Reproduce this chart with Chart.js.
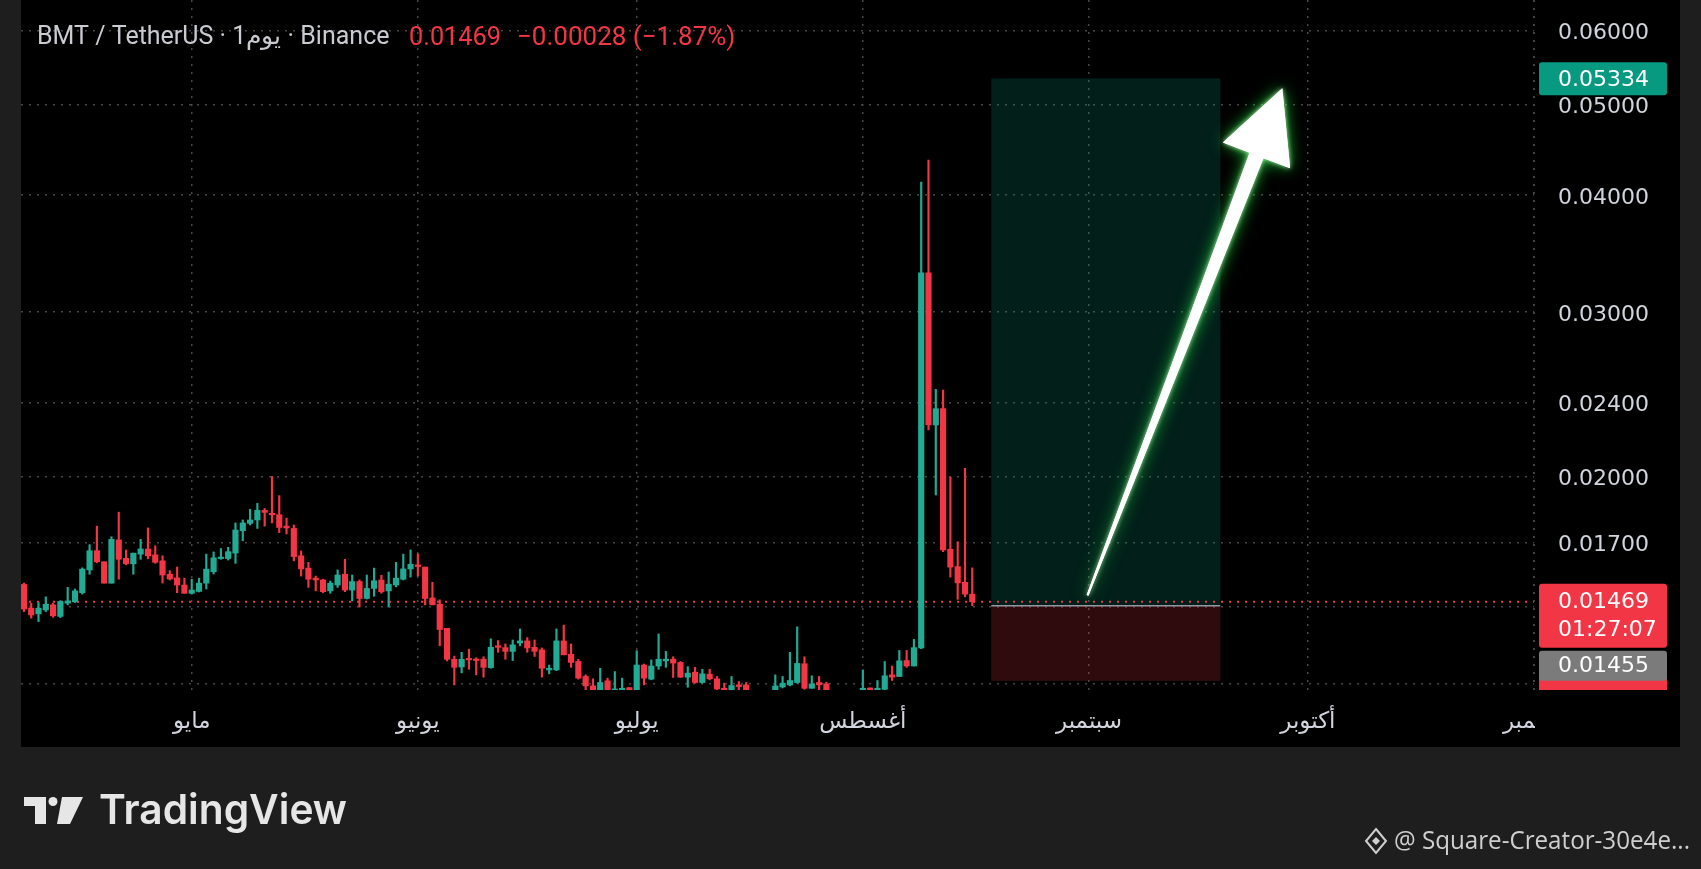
<!DOCTYPE html>
<html>
<head>
<meta charset="utf-8">
<script src="https://cdn.jsdelivr.net/npm/chart.js@4.4.1/dist/chart.umd.min.js"></script>
<style>
  html, body { margin: 0; padding: 0; background: #1e1e1e; }
  #wrap { position: relative; width: 1701px; height: 869px; overflow: hidden; }
  #panel { position: absolute; left: 21px; top: 0; width: 1659px; height: 747px; background: #000; }
  #ourChart { position: absolute; left: 0; top: 0; }
</style>
</head>
<body>
<div id="wrap">
  <div id="panel"></div>
  <canvas id="ourChart" width="1701" height="869"></canvas>
</div>
<script>
// days counted from 1 May (0 = 1 May)
var dayIndex = [
  -23, -22, -21, -20, -19, -18, -17, -16, -15, -14, -13, -12, -11, -10, -9, -8, -7, -6, -5, -4, -3, -2, -1,
  0, 1, 2, 3, 4, 5, 6, 7, 8, 9, 10, 11, 12, 13, 14, 15, 16, 17, 18, 19, 20, 21, 22, 23, 24, 25, 26, 27, 28, 29, 30,
  31, 32, 33, 34, 35, 36, 37, 38, 39, 40, 41, 42, 43, 44, 45, 46, 47, 48, 49, 50, 51, 52, 53, 54, 55, 56, 57, 58, 59, 60,
  61, 62, 63, 64, 65, 66, 67, 68, 69, 70, 71, 72, 73, 74, 75, 76, 77, 78, 79, 80, 81, 82, 83, 84, 85, 86, 87, 88, 89, 90, 91,
  92, 93, 94, 95, 96, 97, 98, 99, 100, 101, 102, 103, 104, 105, 106, 107
];

var openPrices = [
  0.01533, 0.01446, 0.01426, 0.01440, 0.01458, 0.01417, 0.01464, 0.01469, 0.01502, 0.01589,
  0.01666, 0.01621, 0.01538, 0.01711, 0.01635, 0.01613, 0.01652, 0.01673, 0.01649, 0.01625,
  0.01572, 0.01558, 0.01531, 0.01500, 0.01507, 0.01538, 0.01582, 0.01634, 0.01634, 0.01656,
  0.01750, 0.01782, 0.01797, 0.01840, 0.01826, 0.01820, 0.01770, 0.01760, 0.01645, 0.01596,
  0.01557, 0.01550, 0.01509, 0.01531, 0.01572, 0.01512, 0.01544, 0.01481, 0.01518, 0.01550,
  0.01509, 0.01531, 0.01553, 0.01593, 0.01609, 0.01600, 0.01483, 0.01460, 0.01376, 0.01275,
  0.01251, 0.01277, 0.01275, 0.01275, 0.01249, 0.01318, 0.01312, 0.01300, 0.01327, 0.01334,
  0.01313, 0.01305, 0.01242, 0.01242, 0.01334, 0.01291, 0.01268, 0.01222, 0.01194, 0.01170,
  0.01209, 0.01170, 0.01170, 0.01189, 0.01175, 0.01257, 0.01214, 0.01254, 0.01270, 0.01275,
  0.01265, 0.01220, 0.01235, 0.01204, 0.01229, 0.01215, 0.01187, 0.01170, 0.01197, 0.01197,
  0.01170, 0.01150, 0.01140, 0.01165, 0.01191, 0.01197, 0.01204, 0.01261, 0.01187, 0.01204,
  0.01200, 0.01170, 0.01150, 0.01140, 0.01150, 0.01165, 0.01188, 0.01178, 0.01184, 0.01227,
  0.01222, 0.01271, 0.01254, 0.01311, 0.03304, 0.02271, 0.02364, 0.01672, 0.01602, 0.01541,
  0.01497
];
var highPrices = [
  0.01538, 0.01464, 0.01466, 0.01487, 0.01464, 0.01473, 0.01522, 0.01516, 0.01597, 0.01691,
  0.01770, 0.01621, 0.01724, 0.01832, 0.01669, 0.01656, 0.01713, 0.01762, 0.01686, 0.01645,
  0.01586, 0.01600, 0.01557, 0.01553, 0.01557, 0.01652, 0.01661, 0.01675, 0.01680, 0.01784,
  0.01797, 0.01845, 0.01872, 0.01849, 0.02000, 0.01908, 0.01805, 0.01775, 0.01665, 0.01619,
  0.01565, 0.01553, 0.01546, 0.01589, 0.01631, 0.01569, 0.01550, 0.01569, 0.01596, 0.01568,
  0.01581, 0.01619, 0.01652, 0.01669, 0.01653, 0.01600, 0.01541, 0.01476, 0.01376, 0.01285,
  0.01297, 0.01307, 0.01280, 0.01283, 0.01341, 0.01335, 0.01324, 0.01337, 0.01374, 0.01345,
  0.01337, 0.01311, 0.01257, 0.01374, 0.01387, 0.01324, 0.01275, 0.01227, 0.01215, 0.01247,
  0.01217, 0.01237, 0.01217, 0.01189, 0.01302, 0.01260, 0.01273, 0.01357, 0.01300, 0.01283,
  0.01268, 0.01252, 0.01250, 0.01244, 0.01244, 0.01222, 0.01202, 0.01222, 0.01207, 0.01204,
  0.01178, 0.01170, 0.01170, 0.01227, 0.01222, 0.01297, 0.01381, 0.01283, 0.01224, 0.01222,
  0.01205, 0.01178, 0.01170, 0.01160, 0.01170, 0.01242, 0.01188, 0.01210, 0.01268, 0.01254,
  0.01303, 0.01303, 0.01339, 0.04131, 0.04361, 0.02479, 0.02475, 0.01997, 0.01703, 0.02041,
  0.01597
];
var lowPrices = [
  0.01434, 0.01411, 0.01399, 0.01434, 0.01414, 0.01413, 0.01458, 0.01466, 0.01497, 0.01572,
  0.01617, 0.01538, 0.01538, 0.01553, 0.01609, 0.01572, 0.01631, 0.01633, 0.01615, 0.01538,
  0.01550, 0.01502, 0.01500, 0.01497, 0.01505, 0.01516, 0.01573, 0.01631, 0.01628, 0.01615,
  0.01707, 0.01775, 0.01760, 0.01770, 0.01784, 0.01742, 0.01736, 0.01625, 0.01565, 0.01522,
  0.01509, 0.01502, 0.01500, 0.01522, 0.01506, 0.01472, 0.01450, 0.01479, 0.01489, 0.01500,
  0.01450, 0.01524, 0.01550, 0.01561, 0.01565, 0.01458, 0.01458, 0.01318, 0.01270, 0.01197,
  0.01233, 0.01244, 0.01227, 0.01220, 0.01247, 0.01297, 0.01275, 0.01271, 0.01318, 0.01297,
  0.01284, 0.01220, 0.01230, 0.01240, 0.01289, 0.01250, 0.01214, 0.01175, 0.01160, 0.01160,
  0.01160, 0.01150, 0.01160, 0.01160, 0.01160, 0.01197, 0.01212, 0.01244, 0.01250, 0.01219,
  0.01219, 0.01190, 0.01202, 0.01202, 0.01212, 0.01170, 0.01160, 0.01160, 0.01170, 0.01160,
  0.01130, 0.01120, 0.01130, 0.01160, 0.01188, 0.01194, 0.01202, 0.01184, 0.01187, 0.01170,
  0.01160, 0.01140, 0.01130, 0.01120, 0.01130, 0.01160, 0.01170, 0.01170, 0.01170, 0.01210,
  0.01222, 0.01250, 0.01254, 0.01309, 0.02243, 0.01911, 0.01662, 0.01561, 0.01478, 0.01487,
  0.01455
];
var closePrices = [
  0.01443, 0.01422, 0.01446, 0.01460, 0.01419, 0.01470, 0.01472, 0.01509, 0.01592, 0.01666,
  0.01621, 0.01538, 0.01713, 0.01631, 0.01613, 0.01656, 0.01673, 0.01645, 0.01619, 0.01569,
  0.01554, 0.01531, 0.01500, 0.01512, 0.01538, 0.01592, 0.01637, 0.01639, 0.01662, 0.01753,
  0.01784, 0.01797, 0.01840, 0.01831, 0.01820, 0.01764, 0.01762, 0.01642, 0.01593, 0.01553,
  0.01550, 0.01506, 0.01538, 0.01569, 0.01512, 0.01544, 0.01481, 0.01518, 0.01547, 0.01506,
  0.01534, 0.01557, 0.01593, 0.01611, 0.01602, 0.01481, 0.01458, 0.01372, 0.01275, 0.01250,
  0.01275, 0.01273, 0.01271, 0.01250, 0.01313, 0.01313, 0.01300, 0.01321, 0.01334, 0.01311,
  0.01300, 0.01247, 0.01247, 0.01334, 0.01289, 0.01265, 0.01217, 0.01194, 0.01175, 0.01204,
  0.01180, 0.01185, 0.01187, 0.01175, 0.01257, 0.01217, 0.01254, 0.01275, 0.01275, 0.01263,
  0.01220, 0.01232, 0.01204, 0.01230, 0.01215, 0.01185, 0.01175, 0.01195, 0.01192, 0.01170,
  0.01150, 0.01140, 0.01160, 0.01194, 0.01202, 0.01210, 0.01262, 0.01187, 0.01200, 0.01197,
  0.01170, 0.01150, 0.01140, 0.01150, 0.01160, 0.01187, 0.01175, 0.01187, 0.01224, 0.01220,
  0.01270, 0.01254, 0.01312, 0.03304, 0.02271, 0.02364, 0.01669, 0.01600, 0.01539, 0.01497,
  0.01469
];

// axis ticks
var monthStarts = [0, 31, 61, 92, 123, 153, 184];
var monthNames = ['مايو', 'يونيو', 'يوليو', 'أغسطس', 'سبتمبر', 'أكتوبر', 'نوفمبر'];
var priceTicks = [0.012, 0.0145, 0.017, 0.02, 0.024, 0.03, 0.04, 0.05, 0.06];
var labelledTicks = [0.017, 0.02, 0.024, 0.03, 0.04, 0.05, 0.06];

// long position tool + arrow drawn on top
var positionDays = [109.6, 141];
var entryPrice = 0.01455;
var targetPrice = 0.05334;
var stopPrice = 0.01209;
var arrowDays = [122.8, 149.5];
var arrowPrices = [0.01492, 0.05206];

var lastPrice = closePrices[closePrices.length - 1];
var upColor = '#22ab94';
var downColor = '#f23645';
var candleColors = openPrices.map(function (o, i) { return closePrices[i] >= o ? upColor : downColor; });

function roundRect(ctx, x, y, w, h, r) {
    ctx.beginPath();
    ctx.moveTo(x + r, y);
    ctx.arcTo(x + w, y, x + w, y + h, r);
    ctx.arcTo(x + w, y + h, x, y + h, r);
    ctx.arcTo(x, y + h, x, y, r);
    ctx.arcTo(x, y, x + w, y, r);
    ctx.closePath();
}

var overlay = {
    id: 'overlay',
    beforeDatasetsDraw: function (chart) {
        var ctx = chart.ctx, xs = chart.scales.x, ys = chart.scales.y, a = chart.chartArea;
        var l = xs.getPixelForValue(positionDays[0]), r = xs.getPixelForValue(positionDays[1]);
        var yE = ys.getPixelForValue(entryPrice), yT = ys.getPixelForValue(targetPrice), yS = ys.getPixelForValue(stopPrice);
        ctx.save();
        ctx.fillStyle = 'rgba(8,153,129,0.2)';
        ctx.fillRect(l, yT, r - l, yE - yT);
        ctx.fillStyle = 'rgba(242,54,69,0.2)';
        ctx.fillRect(l, yE, r - l, yS - yE);
        ctx.strokeStyle = '#9598a1';
        ctx.lineWidth = 1.5;
        ctx.beginPath(); ctx.moveTo(l, yE); ctx.lineTo(r, yE); ctx.stroke();
        // last price dotted line
        var yL = ys.getPixelForValue(lastPrice);
        ctx.setLineDash([2, 6]);
        ctx.strokeStyle = downColor;
        ctx.lineWidth = 2;
        ctx.beginPath(); ctx.moveTo(a.left, yL); ctx.lineTo(a.right, yL); ctx.stroke();
        // axis separator
        ctx.strokeStyle = '#4a4a4a';
        ctx.lineWidth = 1.5;
        ctx.beginPath(); ctx.moveTo(a.right, 0); ctx.lineTo(a.right, a.bottom); ctx.stroke();
        ctx.restore();
    },
    afterDatasetsDraw: function (chart) {
        var ctx = chart.ctx, xs = chart.scales.x, ys = chart.scales.y;
        var x0 = xs.getPixelForValue(arrowDays[0]), y0 = ys.getPixelForValue(arrowPrices[0]);
        var x1 = xs.getPixelForValue(arrowDays[1]), y1 = ys.getPixelForValue(arrowPrices[1]);
        var dx = x1 - x0, dy = y1 - y0, len = Math.hypot(dx, dy);
        var ux = dx / len, uy = dy / len, nx = -uy, ny = ux;
        var headLen = 72, headHalf = 36, shaftHalf = 7.5, tailHalf = 1;
        var bx = x1 - ux * headLen, by = y1 - uy * headLen;
        ctx.save();
        ctx.beginPath();
        ctx.moveTo(x0 + nx * tailHalf, y0 + ny * tailHalf);
        ctx.lineTo(bx + nx * shaftHalf, by + ny * shaftHalf);
        ctx.lineTo(bx + nx * headHalf, by + ny * headHalf);
        ctx.lineTo(x1, y1);
        ctx.lineTo(bx - nx * headHalf, by - ny * headHalf);
        ctx.lineTo(bx - nx * shaftHalf, by - ny * shaftHalf);
        ctx.lineTo(x0 - nx * tailHalf, y0 - ny * tailHalf);
        ctx.closePath();
        ctx.shadowColor = 'rgba(30,230,60,0.85)';
        ctx.shadowBlur = 16;
        ctx.fillStyle = '#ffffff';
        ctx.fill();
        ctx.shadowBlur = 5;
        ctx.shadowColor = 'rgba(200,255,200,0.9)';
        ctx.fill();
        ctx.restore();
    },
    afterDraw: function (chart) {
        var ctx = chart.ctx, ys = chart.scales.y, a = chart.chartArea;
        ctx.save();
        // hide the cut-off month label under the price axis
        ctx.fillStyle = '#000';
        ctx.fillRect(a.right + 1, a.bottom + 1, 1680 - a.right - 1, 747 - a.bottom - 1);

        // price axis labels
        var bx = a.right + 5, bw = 128;
        ctx.save();
        ctx.beginPath(); ctx.rect(a.right, 0, 200, a.bottom); ctx.clip();
        ctx.font = '22px "DejaVu Sans"';
        ctx.textBaseline = 'middle';
        var yS = ys.getPixelForValue(stopPrice);
        ctx.fillStyle = downColor;
        roundRect(ctx, bx, yS - 16, bw, 32, 3); ctx.fill();
        var yT = ys.getPixelForValue(targetPrice);
        ctx.fillStyle = '#089981';
        roundRect(ctx, bx, yT - 16, bw, 33, 3); ctx.fill();
        ctx.fillStyle = '#ffffff';
        ctx.fillText(targetPrice.toFixed(5), a.right + 24, yT + 2);
        var yL = ys.getPixelForValue(lastPrice);
        ctx.fillStyle = downColor;
        roundRect(ctx, bx, yL - 18, bw, 64, 3); ctx.fill();
        ctx.fillStyle = '#ffffff';
        ctx.fillText(lastPrice.toFixed(5), a.right + 24, yL + 1);
        ctx.fillText('01:27:07', a.right + 24, yL + 29);
        ctx.fillStyle = '#7b7b7b';
        roundRect(ctx, bx, yL + 49, bw, 30, 3); ctx.fill();
        ctx.fillStyle = '#ffffff';
        ctx.fillText(entryPrice.toFixed(5), a.right + 24, yL + 65);
        ctx.restore();

        // header
        ctx.textBaseline = 'middle';
        ctx.font = '25px Roboto';
        ctx.fillStyle = '#c9cbd1';
        ctx.fillText('BMT / TetherUS · 1يوم · Binance', 37, 38, 356);
        ctx.fillStyle = downColor;
        ctx.font = '26px Roboto';
        ctx.fillText('0.01469', 409, 38, 92);
        ctx.fillText('−0.00028 (−1.87%)', 517, 38, 221);

        // TradingView logo
        ctx.fillStyle = '#e6e6e6';
        ctx.fillRect(24, 797, 22, 9);
        ctx.fillRect(35, 797, 11, 27);
        ctx.beginPath(); ctx.arc(53, 801.5, 4.5, 0, Math.PI * 2); ctx.fill();
        ctx.beginPath();
        ctx.moveTo(62, 797); ctx.lineTo(83, 797); ctx.lineTo(70, 824); ctx.lineTo(57, 824);
        ctx.closePath(); ctx.fill();
        ctx.font = '600 41px Inter';
        ctx.textBaseline = 'alphabetic';
        ctx.fillText('TradingView', 99, 824, 248);

        // watermark
        ctx.fillStyle = '#cfcfcf';
        ctx.strokeStyle = '#cfcfcf';
        ctx.lineWidth = 2;
        ctx.beginPath();
        ctx.moveTo(1376, 829); ctx.lineTo(1386, 841); ctx.lineTo(1376, 853); ctx.lineTo(1366, 841); ctx.closePath();
        ctx.stroke();
        ctx.beginPath();
        ctx.moveTo(1376, 837); ctx.lineTo(1380, 841); ctx.lineTo(1376, 845); ctx.lineTo(1372, 841); ctx.closePath();
        ctx.fill();
        ctx.font = '25px "Open Sans"';
        ctx.textBaseline = 'middle';
        ctx.fillText('@ Square-Creator-30e4e...', 1394, 842, 296);
        ctx.restore();
    }
};

var ourCanvas = document.getElementById('ourChart');

var chartElement = new Chart(ourCanvas, {
    type: 'bar',
    data: {
        datasets: [
            {
                label: 'wicks',
                data: dayIndex.map(function (d, i) { return { x: d, y: [lowPrices[i], highPrices[i]] }; }),
                backgroundColor: candleColors,
                barThickness: 1.5,
                grouped: false,
                clip: 0,
                order: 2
            },
            {
                label: 'bodies',
                data: dayIndex.map(function (d, i) { return { x: d, y: [openPrices[i], closePrices[i]] }; }),
                backgroundColor: candleColors,
                barThickness: 5.5,
                minBarLength: 1.5,
                grouped: false,
                clip: 0,
                order: 1
            }
        ]
    },
    options: {
        responsive: false,
        animation: false,
        layout: { padding: { left: 21, right: 21, top: 0, bottom: 122 } },
        plugins: { legend: { display: false }, tooltip: { enabled: false } },
        scales: {
            x: {
                type: 'linear',
                min: -23.4,
                max: 184,
                offset: false,
                grid: { offset: false, color: '#474747', lineWidth: 1.5, drawTicks: false },
                border: { display: false, dash: [2, 6] },
                afterBuildTicks: function (s) { s.ticks = monthStarts.map(function (v) { return { value: v }; }); },
                afterFit: function (s) { s.height = 57; s.paddingLeft = 0; s.paddingRight = 0; },
                ticks: {
                    autoSkip: false,
                    maxRotation: 0,
                    padding: 18,
                    color: '#d1d4dc',
                    font: { family: 'DejaVu Sans', size: 23 },
                    callback: function (v, i) { return monthNames[i]; }
                }
            },
            y: {
                type: 'logarithmic',
                position: 'right',
                min: 0.01182,
                max: 0.0647,
                grid: { color: '#474747', lineWidth: 1.5, drawTicks: false },
                border: { display: false, dash: [2, 6] },
                afterBuildTicks: function (s) { s.ticks = priceTicks.map(function (v) { return { value: v }; }); },
                afterFit: function (s) { s.width = 146; s.paddingTop = 0; s.paddingBottom = 0; },
                ticks: {
                    padding: 24,
                    color: '#d1d4dc',
                    // empty first line nudges the label a few px down onto its grid line
                    font: { family: 'DejaVu Sans', size: 22, lineHeight: '6px' },
                    callback: function (v) { return labelledTicks.indexOf(v) >= 0 ? ['', v.toFixed(5)] : ''; }
                }
            }
        }
    },
    plugins: [overlay]
});
</script>
</body>
</html>
